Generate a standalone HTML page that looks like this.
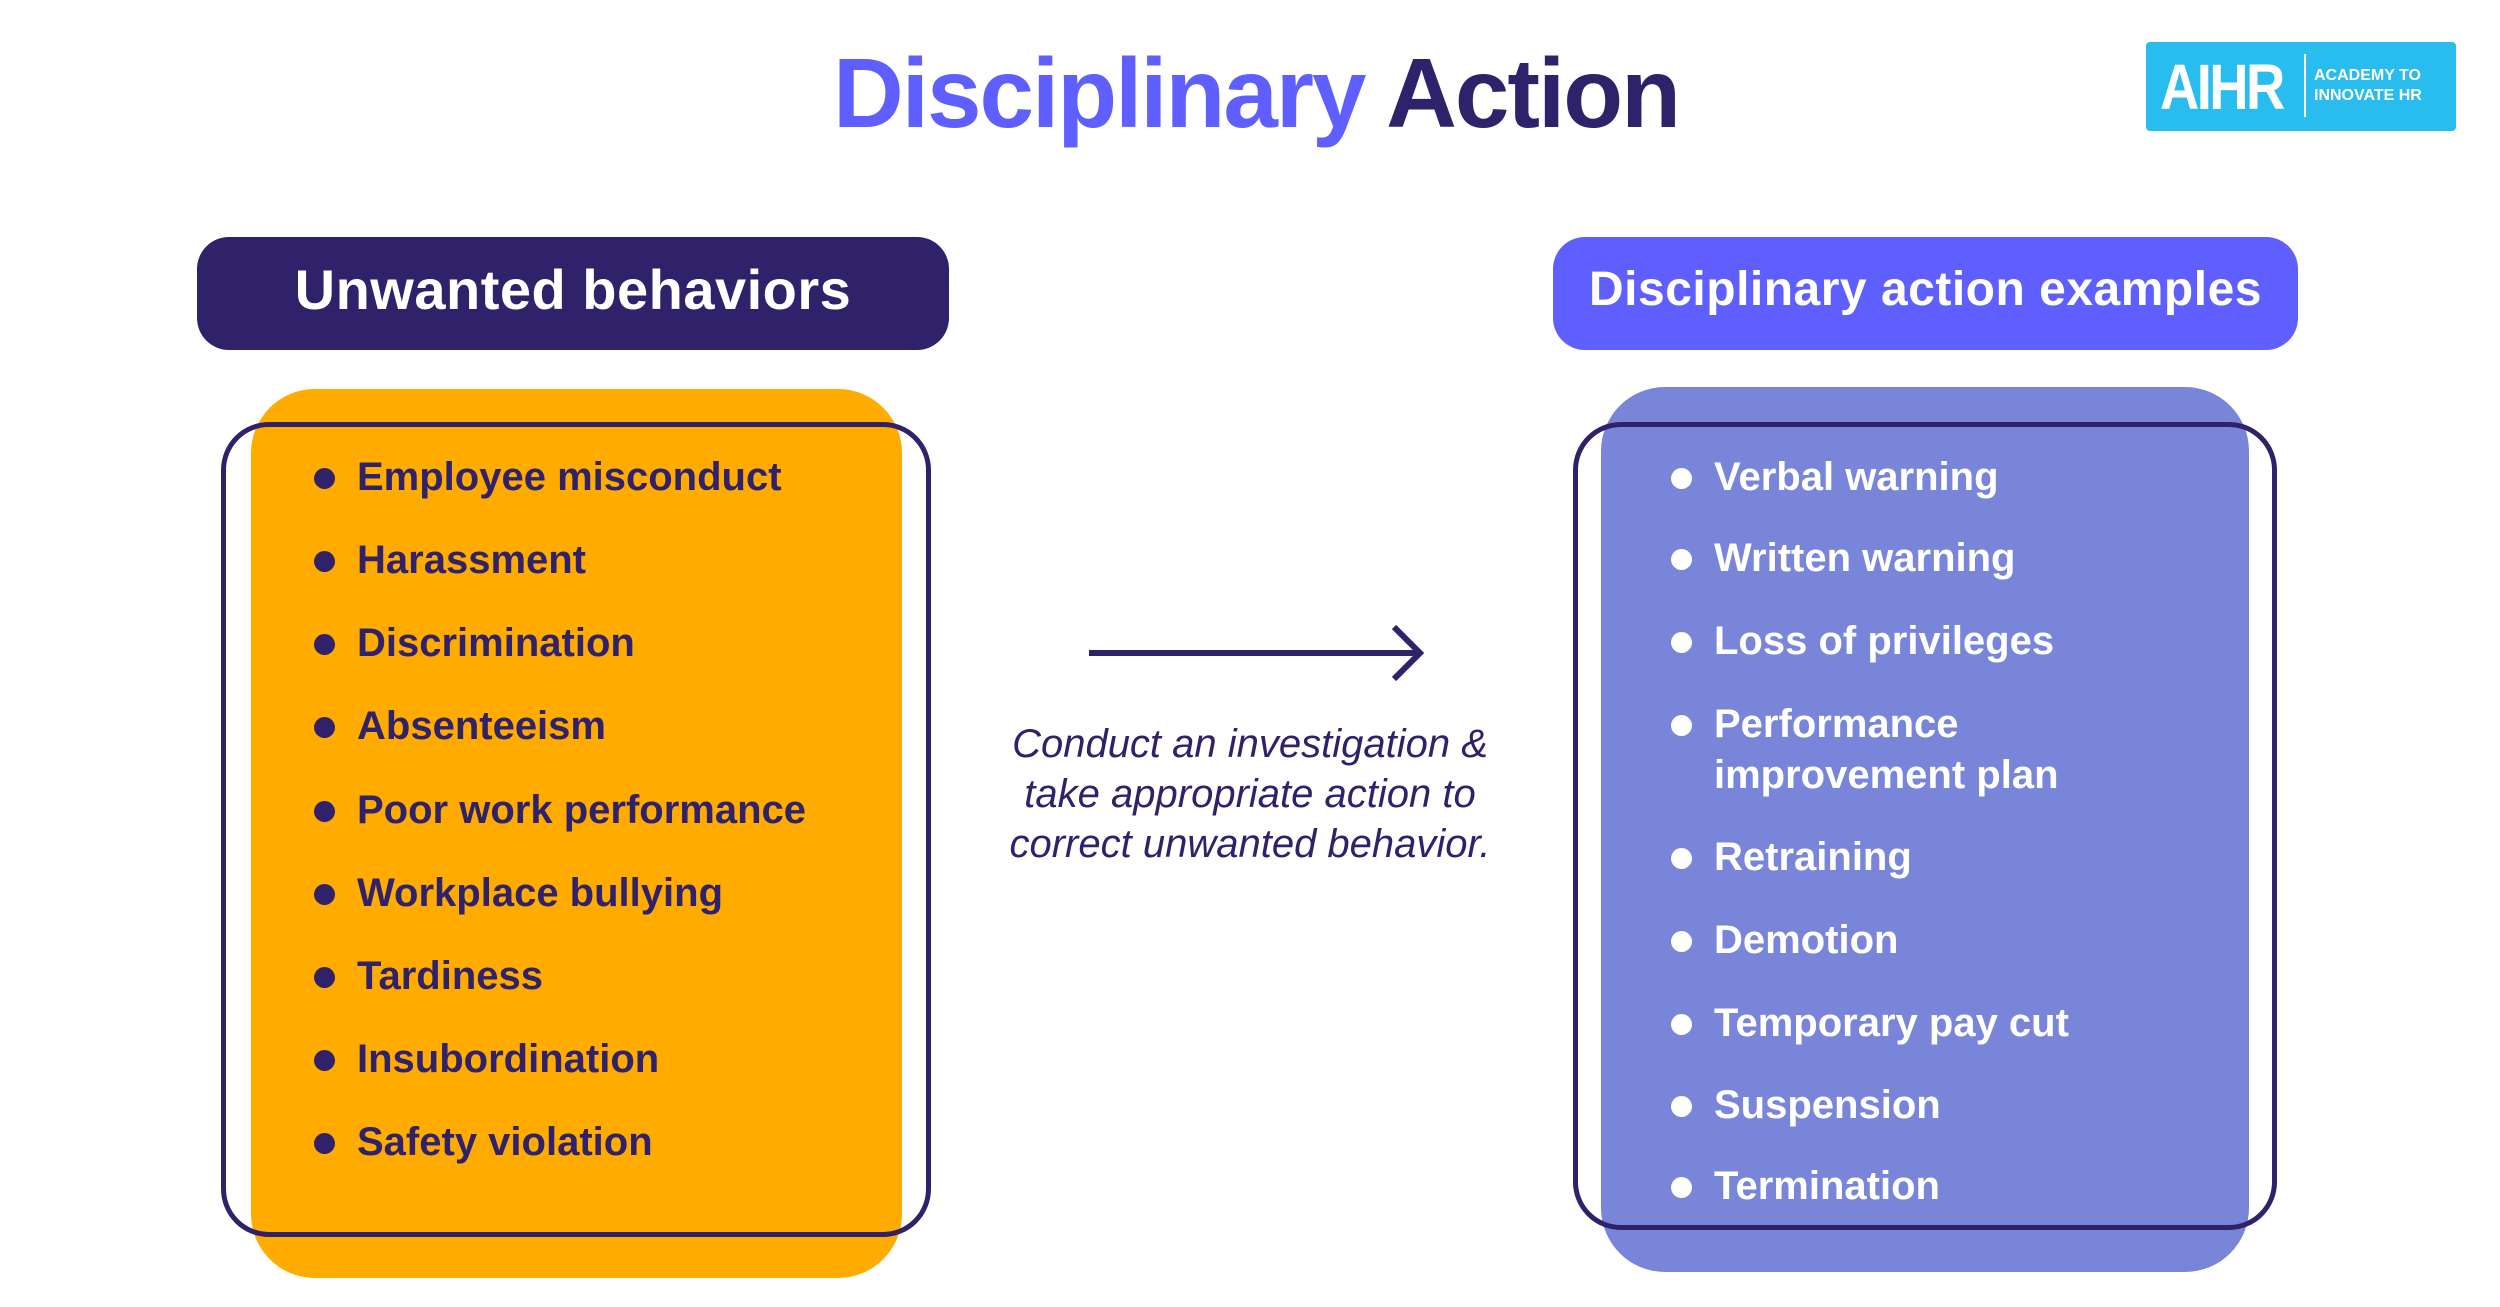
<!DOCTYPE html>
<html><head><meta charset="utf-8"><style>
*{margin:0;padding:0;box-sizing:border-box}
body{width:2500px;height:1307px;background:#fff;position:relative;overflow:hidden;font-family:"Liberation Sans",sans-serif}
.abs{position:absolute}
.title{left:0;width:2512px;top:38px;text-align:center;font-size:98px;font-weight:bold;color:#30216B;letter-spacing:-2px;line-height:110px}
.title span{color:#5F5FFF}
.logo{left:2146px;top:42px;width:310px;height:89px;background:#29BDEF;border-radius:4px;color:#fff}
.hdr{height:113px;border-radius:32px;color:#fff;font-weight:bold;display:flex;align-items:center;justify-content:center;letter-spacing:0.5px;padding-bottom:8px}
.box{border-radius:64px}
.outline{border:5px solid #30216B;border-radius:48px}
.item{font-size:40px;font-weight:bold;line-height:48px;height:48px}
.item i{position:absolute;left:-43px;top:15px;width:21px;height:21px;border-radius:50%}
.l .item{color:#30216B}.l .item i{background:#30216B}
.r .item{color:#fff}.r .item i{background:#fff}
.it{left:950px;width:600px;text-align:center;font-style:italic;font-size:40px;color:#30216B;line-height:50px}
</style></head><body>
<div class="abs title"><span>Disciplinary</span> Action</div>
<div class="abs logo">
 <div class="abs" style="left:14px;top:12px;font-size:64px;font-weight:bold;letter-spacing:-3px;line-height:66px;transform:scaleX(0.85);transform-origin:left">AIHR</div>
 <div class="abs" style="left:158px;top:12px;width:2px;height:63px;background:#fff"></div>
 <div class="abs" style="left:168px;top:24px;font-size:16px;font-weight:bold;line-height:20px">ACADEMY TO<br>INNOVATE HR</div>
</div>

<div class="abs hdr" style="left:197px;top:237px;width:752px;background:#30216B;font-size:56px">Unwanted behaviors</div>
<div class="abs hdr" style="left:1553px;top:237px;width:745px;background:#5F5FFF;font-size:48px">Disciplinary action examples</div>

<div class="abs box" style="left:251px;top:389px;width:651px;height:889px;background:#FFAB00"></div>
<div class="abs outline" style="left:221px;top:422px;width:710px;height:815px"></div>
<div class="abs box" style="left:1601px;top:387px;width:648px;height:885px;background:#7985D8"></div>
<div class="abs outline" style="left:1573px;top:422px;width:704px;height:808px"></div>

<div class="l">
<div class="abs item" style="left:357px;top:453px"><i></i>Employee misconduct</div>
<div class="abs item" style="left:357px;top:536px"><i></i>Harassment</div>
<div class="abs item" style="left:357px;top:619px"><i></i>Discrimination</div>
<div class="abs item" style="left:357px;top:702px"><i></i>Absenteeism</div>
<div class="abs item" style="left:357px;top:786px"><i></i>Poor work performance</div>
<div class="abs item" style="left:357px;top:869px"><i></i>Workplace bullying</div>
<div class="abs item" style="left:357px;top:952px"><i></i>Tardiness</div>
<div class="abs item" style="left:357px;top:1035px"><i></i>Insubordination</div>
<div class="abs item" style="left:357px;top:1118px"><i></i>Safety violation</div>
</div>
<div class="r">
<div class="abs item" style="left:1714px;top:453px"><i></i>Verbal warning</div>
<div class="abs item" style="left:1714px;top:534px"><i></i>Written warning</div>
<div class="abs item" style="left:1714px;top:617px"><i></i>Loss of privileges</div>
<div class="abs item" style="left:1714px;top:700px"><i></i>Performance</div>
<div class="abs item" style="left:1714px;top:751px">improvement plan</div>
<div class="abs item" style="left:1714px;top:833px"><i></i>Retraining</div>
<div class="abs item" style="left:1714px;top:916px"><i></i>Demotion</div>
<div class="abs item" style="left:1714px;top:999px"><i></i>Temporary pay cut</div>
<div class="abs item" style="left:1714px;top:1081px"><i></i>Suspension</div>
<div class="abs item" style="left:1714px;top:1162px"><i></i>Termination</div>
</div>

<svg class="abs" style="left:0;top:0" width="2500" height="1307">
<line x1="1089" y1="653" x2="1420" y2="653" stroke="#30216B" stroke-width="6"/>
<polyline points="1394,627 1420,653 1394,679" fill="none" stroke="#30216B" stroke-width="6"/>
</svg>
<div class="abs it" style="top:719px">Conduct an investigation &amp;<br>take appropriate action to<br>correct unwanted behavior.</div>
</body></html>
